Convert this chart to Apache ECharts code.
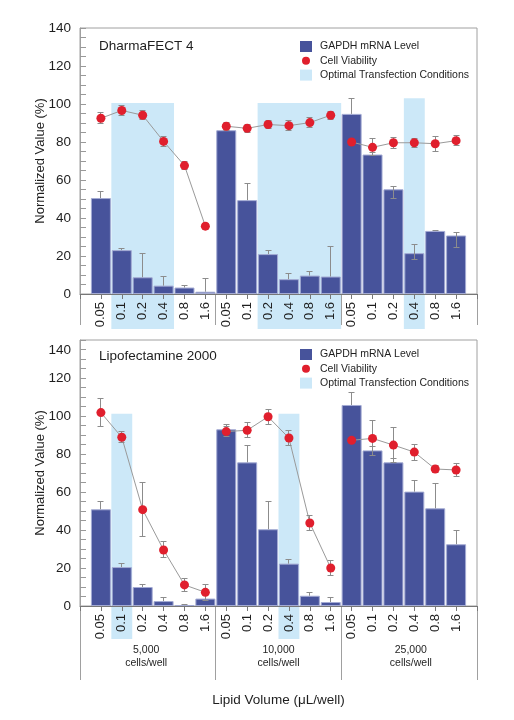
<!DOCTYPE html>
<html><head><meta charset="utf-8">
<script src="https://cdn.jsdelivr.net/npm/echarts@6/dist/echarts.min.js"></script>
<style>html,body{margin:0;padding:0;background:#fff}#c{width:514px;height:720px}</style>
</head><body><div id="c"></div>
<script>
// ---------- data ----------
const volumes = ['0.05', '0.1', '0.2', '0.4', '0.8', '1.6'];
const categories = volumes.concat(volumes, volumes);
const groupLabels = ['5,000\ncells/well', '10,000\ncells/well', '25,000\ncells/well'];
const panelTitles = ['DharmaFECT 4', 'Lipofectamine 2000'];
const yTicks = [0, 20, 40, 60, 80, 100, 120, 140];

// DharmaFECT 4 panel
const df4Gapdh       = [50.5, 23.1, 8.8, 4.4, 3.4, 1.2, 86.2, 49.4, 21.0, 7.8, 9.7, 9.2, 94.8, 73.4, 55.1, 21.5, 33.2, 30.8];
const df4GapdhErrUp  = [3.7, 0.9, 12.6, 5.0, 1.0, 6.9, 1.0, 8.7, 2.1, 3.0, 2.1, 16.0, 8.3, 1.2, 1.5, 4.3, 0.4, 1.7];
const df4GapdhErrLo  = [0, 0, 0, 0, 0, 0, 0, 0, 0, 0, 0, 0, 0, 0, 4.7, 3.5, 0, 6.2];
const df4Via         = [92.5, 96.6, 94.1, 80.3, 67.6, 35.7, 88.3, 87.2, 89.2, 88.6, 90.2, 94.1, 80.0, 77.2, 79.6, 79.6, 79.1, 80.7];
const df4ViaErr      = [3.0, 2.8, 2.5, 2.5, 2.0, 1.5, 2.0, 2.0, 2.0, 2.5, 2.5, 2.0, 0, 4.5, 3.0, 2.5, 4.0, 2.6];
const df4ShadeStart  = [1, 8, 15];
const df4ShadeEnd    = [3, 11, 15];
const df4ShadeTop    = [100.5, 100.5, 103];

// Lipofectamine 2000 panel
const lipoGapdh      = [50.9, 20.5, 10.0, 2.6, 0.5, 3.9, 93.0, 75.6, 40.4, 22.3, 5.4, 2.1, 105.8, 81.9, 75.6, 60.2, 51.4, 32.5];
const lipoGapdhErrUp = [4.0, 2.0, 1.4, 2.0, 0.3, 0, 2.6, 9.1, 14.7, 2.3, 1.6, 2.5, 6.7, 2.0, 2.0, 5.6, 13.2, 7.0];
const lipoGapdhErrLo = [0, 0, 0, 0, 0, 0, 0, 0, 0, 0, 0, 0, 0, 0, 0, 0, 0, 0];
const lipoVia        = [101.8, 88.8, 50.7, 29.5, 11.1, 7.2, 91.8, 92.5, 99.6, 88.4, 43.7, 20.0, 87.2, 88.2, 84.7, 81.0, 72.1, 71.6];
const lipoViaErr     = [7.5, 2.8, 14.2, 4.2, 3.5, 4.2, 2.5, 4.0, 4.0, 4.0, 3.9, 4.0, 0, 9.2, 9.3, 4.2, 2.0, 3.5];
const lipoShadeStart = [1, 9];
const lipoShadeEnd   = [1, 9];
const lipoShadeTop   = [101.2, 101.2];

// ---------- styles ----------
const FONT = "'Liberation Sans', Arial, sans-serif";
const TXT = '#1e1e1e';
const BAR = '#47539b';
const DOT = '#e01f2d';
const SHADE = '#cce8f8';
const FRAME = '#a0a0a0';
const ERR = '#8c8c8c';
const gsize = volumes.length;
const boundaries = [-1];
for (let g = 1; g < categories.length / gsize; g++) boundaries.push(g * gsize - 0.5);
boundaries.push(categories.length);

const panels = [
  {gapdh: df4Gapdh, up: df4GapdhErrUp, lo: df4GapdhErrLo, via: df4Via, viaErr: df4ViaErr,
   s: df4ShadeStart, e: df4ShadeEnd, t: df4ShadeTop, shadeExt: 35, frameExt: 31},
  {gapdh: lipoGapdh, up: lipoGapdhErrUp, lo: lipoGapdhErrLo, via: lipoVia, viaErr: lipoViaErr,
   s: lipoShadeStart, e: lipoShadeEnd, t: lipoShadeTop, shadeExt: 33, frameExt: 74}
];

function crisp(x) { return Math.round(x - 0.5) + 0.5; }

function errSeries(gi, vals, up, lo, z) {
  return {
    type: 'custom', xAxisIndex: gi, yAxisIndex: gi, z: z, silent: true, clip: true,
    data: vals.map((v, i) => [i, v, up[i], lo[i]]),
    renderItem(params, api) {
      const x = api.value(0), v = api.value(1), u = api.value(2), d = api.value(3);
      if (!(u > 0) && !(d > 0)) return null;
      const top = api.coord([x, v + (u > 0 ? u : 0)]);
      const bot = api.coord([x, Math.max(0, v - (d > 0 ? d : 0))]);
      const cx = crisp(top[0]);
      const st = {stroke: ERR, lineWidth: 1};
      const ch = [{type: 'line', shape: {x1: cx, y1: top[1], x2: cx, y2: bot[1]}, style: st}];
      if (u > 0) ch.push({type: 'line', shape: {x1: cx - 3, y1: crisp(top[1]), x2: cx + 3, y2: crisp(top[1])}, style: st});
      if (d > 0) ch.push({type: 'line', shape: {x1: cx - 3, y1: crisp(bot[1]), x2: cx + 3, y2: crisp(bot[1])}, style: st});
      return {type: 'group', children: ch};
    }
  };
}

function shadeSeries(gi, p) {
  return {
    type: 'custom', name: 'Optimal Transfection Conditions', xAxisIndex: gi, yAxisIndex: gi,
    z: 1, clip: false, silent: true, itemStyle: {color: SHADE},
    data: p.s.map((s, k) => [s, p.t[k], p.e[k]]),
    renderItem(params, api) {
      const p1 = api.coord([api.value(0) - 0.5, api.value(1)]);
      const p2 = api.coord([api.value(2) + 0.5, 0]);
      return {type: 'rect', shape: {x: p1[0], y: p1[1], width: p2[0] - p1[0], height: p2[1] - p1[1] + p.shadeExt},
              style: {fill: SHADE}};
    }
  };
}

function frameSeries(gi, ext) {
  return {
    type: 'custom', xAxisIndex: gi, yAxisIndex: gi, z: 3, clip: false, silent: true,
    data: boundaries.map(b => [b, 0]),
    renderItem(params, api) {
      const p = api.coord([api.value(0), 0]);
      const x = crisp(p[0]);
      return {type: 'line', shape: {x1: x, y1: p[1], x2: x, y2: p[1] + ext}, style: {stroke: FRAME, lineWidth: 1}};
    }
  };
}

function lineData(vals) {
  const out = [];
  vals.forEach((v, i) => { if (i > 0 && i % gsize === 0) out.push([i - 0.5, '-']); out.push([i, v]); });
  return out;
}

const series = [];
panels.forEach((p, gi) => {
  series.push(shadeSeries(gi, p));
  series.push({
    type: 'bar', name: 'GAPDH mRNA Level', xAxisIndex: gi, yAxisIndex: gi, z: 2, barWidth: 20,
    data: p.gapdh.map((v, i) => [i, v]),
    itemStyle: {color: BAR, borderColor: '#a3aad3', borderWidth: 1}, silent: true
  });
  series.push(errSeries(gi, p.gapdh, p.up, p.lo, 3));
  series.push(frameSeries(gi, p.frameExt));
  series.push({
    type: 'line', xAxisIndex: gi, yAxisIndex: gi, z: 4, showSymbol: false, silent: true,
    data: lineData(p.via), connectNulls: false,
    lineStyle: {color: '#9a9a9a', width: 1}
  });
  series.push(errSeries(gi, p.via, p.viaErr, p.viaErr, 5));
  series.push({
    type: 'scatter', name: 'Cell Viability', xAxisIndex: gi, yAxisIndex: gi, z: 6, symbolSize: 9,
    data: p.via.map((v, i) => [i, v]), itemStyle: {color: DOT, opacity: 1}, silent: true
  });
});

const circleIcon = 'path://M6,1.5A4,4 0 1 1 6,9.5A4,4 0 1 1 6,1.5Z M0,0L0.01,0L0,0.01Z M12,11L11.99,11L12,10.99Z';

const option = {
  animation: false,
  backgroundColor: '#fff',
  title: panelTitles.map((t, gi) => ({
    text: t, left: 99, top: gi === 0 ? 39 : 349, padding: 0,
    textStyle: {fontFamily: FONT, fontSize: 13.5, fontWeight: 'normal', color: TXT}
  })),
  legend: [0, 1].map(gi => ({
    left: 300, top: gi === 0 ? 41 : 349, orient: 'vertical', itemWidth: 12, itemHeight: 11, itemGap: 3.3,
    padding: 0, selectedMode: false,
    textStyle: {fontFamily: FONT, fontSize: 10.5, lineHeight: 11, color: TXT, padding: [0, 0, 0, 3]},
    data: [
      {name: 'GAPDH mRNA Level', icon: 'rect', itemStyle: {color: BAR, borderWidth: 0}},
      {name: 'Cell Viability', icon: circleIcon, itemStyle: {color: DOT, borderWidth: 0}},
      {name: 'Optimal Transfection Conditions', icon: 'rect', itemStyle: {color: SHADE, borderWidth: 0}}
    ]
  })),
  grid: [
    {left: 80, right: 37, top: 28, height: 266, show: true, borderColor: FRAME, borderWidth: 1},
    {left: 80, right: 37, top: 340, height: 266, show: true, borderColor: FRAME, borderWidth: 1}
  ],
  xAxis: [
    ...[0, 1].map(gi => ({
      gridIndex: gi, type: 'value', min: -1, max: categories.length, interval: 1, z: 10,
      axisLine: {onZero: false, lineStyle: {color: '#777'}},
      axisTick: {length: 5, lineStyle: {color: '#777'}},
      splitLine: {show: false},
      axisLabel: {rotate: 90, margin: 8, fontSize: 13, fontFamily: FONT, color: TXT,
        formatter: v => (categories[Math.round(v)] !== undefined && v >= 0 ? categories[Math.round(v)] : '')}
    })),
    {
      gridIndex: 1, type: 'category', data: groupLabels, position: 'bottom', z: 10,
      axisLine: {show: false, onZero: false}, axisTick: {show: false}, splitLine: {show: false},
      axisLabel: {margin: 38, interval: 0, fontSize: 10.5, lineHeight: 12.5, fontFamily: FONT, color: TXT},
      name: 'Lipid Volume (\u03bcL/well)', nameLocation: 'middle', nameGap: 87, nameMoveOverlap: false,
      nameTextStyle: {fontSize: 13.5, fontFamily: FONT, color: TXT}
    }
  ],
  yAxis: [0, 1].map(gi => ({
    gridIndex: gi, type: 'value', min: yTicks[0], max: yTicks[yTicks.length - 1], interval: yTicks[1] - yTicks[0],
    name: 'Normalized Value (%)', nameLocation: 'middle', nameGap: 33, nameMoveOverlap: false,
    nameTextStyle: {fontSize: 13, fontFamily: FONT, color: TXT},
    axisLine: {show: true, onZero: false, lineStyle: {color: FRAME}},
    axisTick: {show: true, inside: true, length: 6, lineStyle: {color: '#999'}},
    minorTick: {show: true, splitNumber: 4, length: 6, lineStyle: {color: '#999'}},
    splitLine: {show: false},
    axisLabel: {
      fontSize: 13.5, fontFamily: FONT, color: TXT, margin: 9,
      formatter: v => (gi === 1 && v === yTicks[yTicks.length - 1]) ? '{lo|' + v + '}' : String(v),
      rich: {lo: {padding: [20, 0, 0, 0], fontSize: 13.5, fontFamily: FONT, color: TXT}}
    }
  })),
  series: series
};

const chart = echarts.init(document.getElementById('c'));
chart.setOption(option);
</script>
</body></html>
